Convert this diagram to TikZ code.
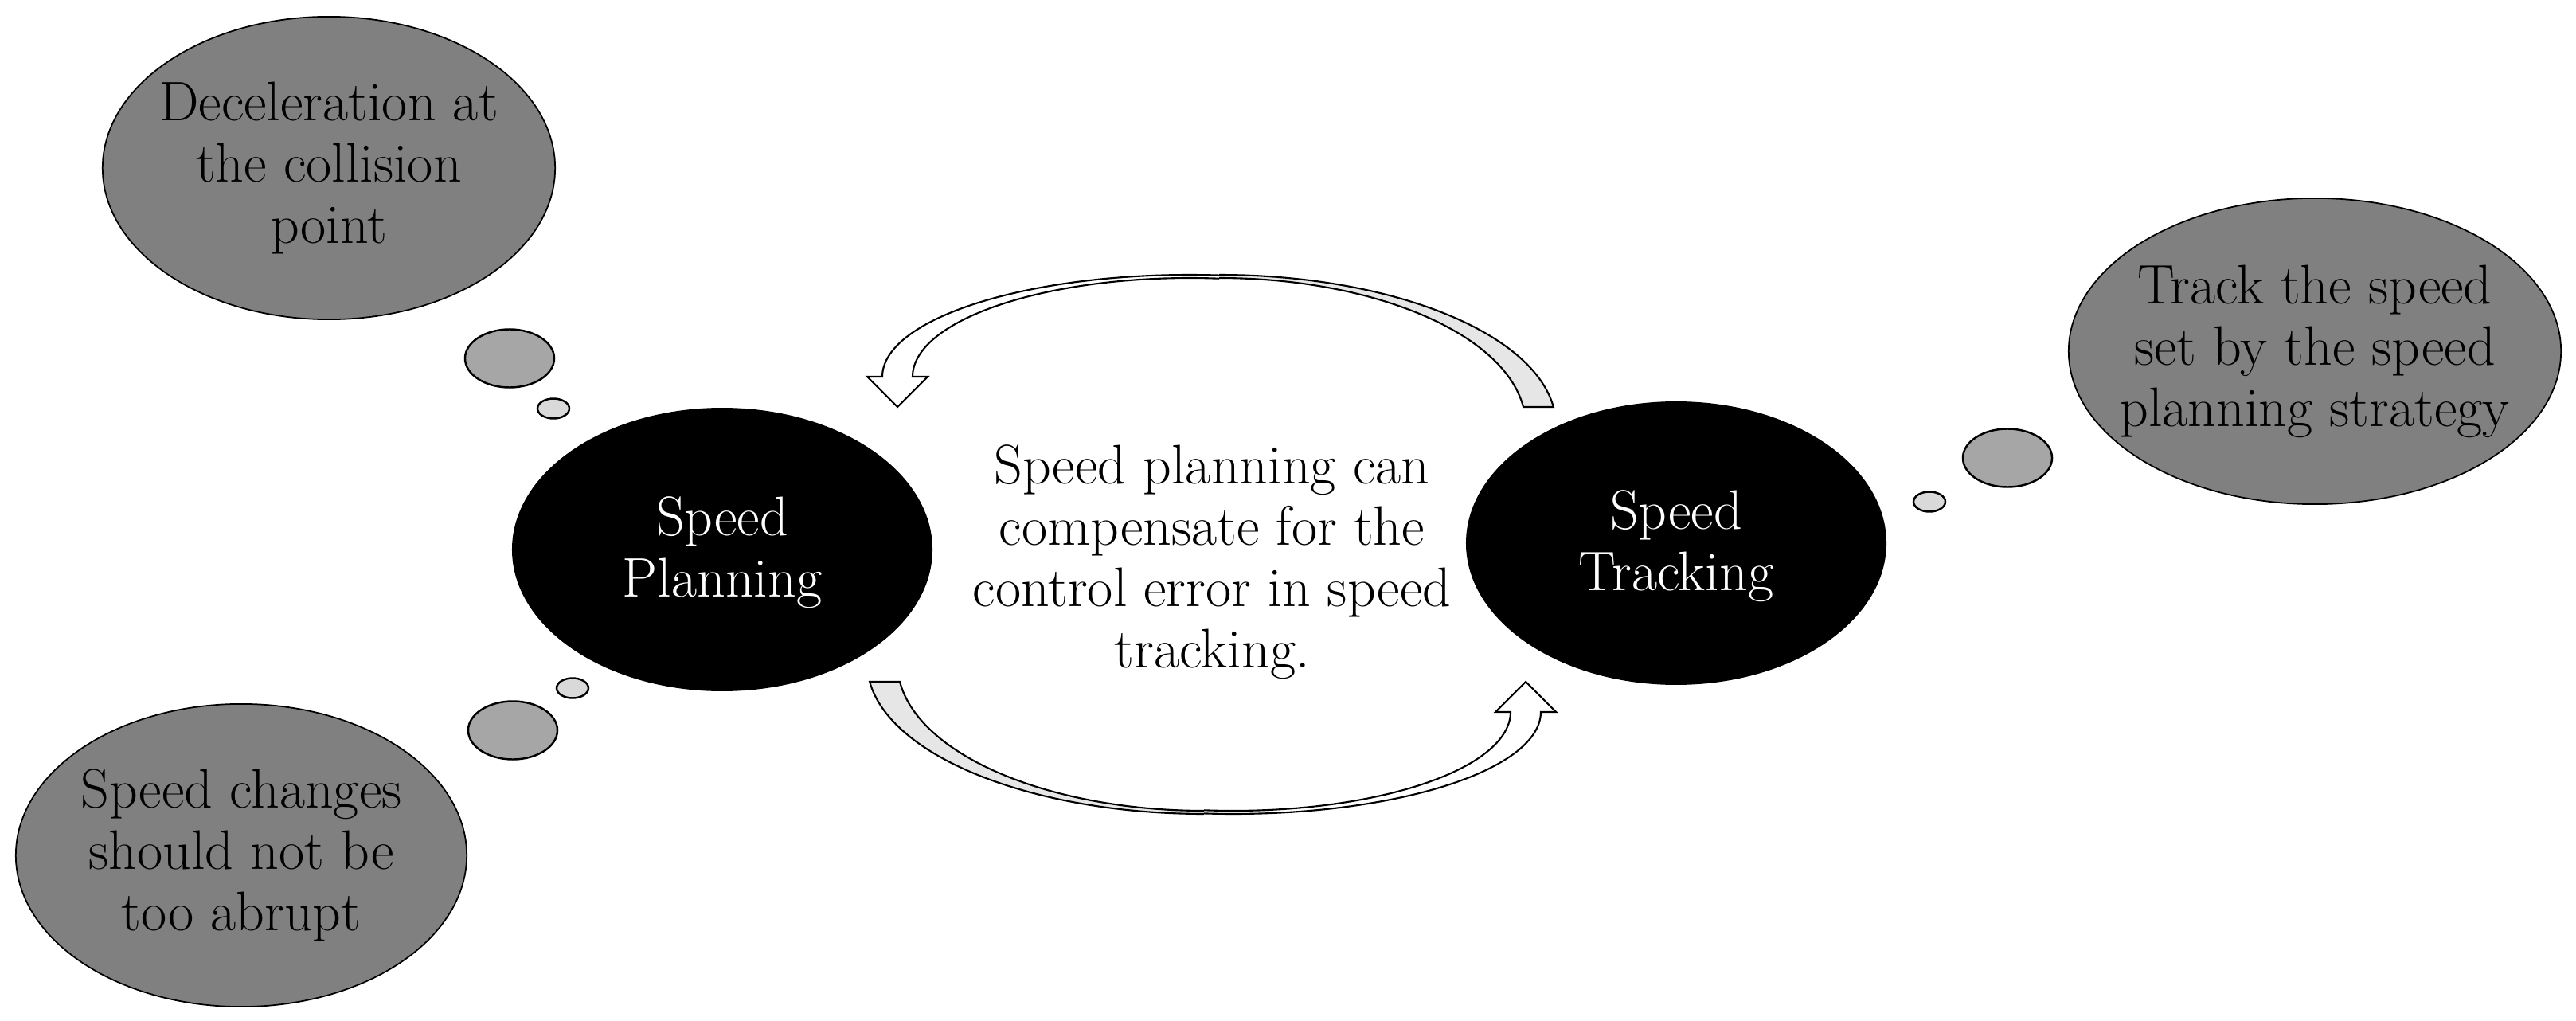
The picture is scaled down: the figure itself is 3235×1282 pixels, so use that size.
\documentclass[tikz,border=0pt]{standalone}
\usepackage{fontspec}
\usetikzlibrary{shapes.geometric}
\definecolor{ellgray}{HTML}{808080}
\definecolor{bubgray}{HTML}{A6A6A6}
\definecolor{smallgray}{HTML}{D9D9D9}
\definecolor{arrgray}{HTML}{E6E6E6}
\newcommand{\myCurvArrow}{%
  % back (grey) band with the tail
  \fill[arrgray] plot[domain=90:6.99,samples=60] ({1531+423*cos(\x)},{534-189*sin(\x)})
     -- plot[domain=7.14:90,samples=60] ({1531+385*cos(\x)},{534-185*sin(\x)}) -- cycle;
  \draw[arrline] plot[domain=90:6.99,samples=60] ({1531+423*cos(\x)},{534-189*sin(\x)})
     -- plot[domain=7.14:90,samples=60] ({1531+385*cos(\x)},{534-185*sin(\x)});
  % front (white) band with the head
  \fill[white] plot[domain=180:84.5,samples=60] ({1494+386*cos(\x)},{473-128*sin(\x)})
     -- plot[domain=83.9:180,samples=60] ({1494+348*cos(\x)},{473-124*sin(\x)})
     -- (1165,473) -- (1127,511) -- (1089,473) -- cycle;
  \draw[arrline] plot[domain=83.9:180,samples=60] ({1494+348*cos(\x)},{473-124*sin(\x)})
     -- (1165,473) -- (1127,511) -- (1089,473) -- (1108,473)
     -- plot[domain=180:84.5,samples=60] ({1494+386*cos(\x)},{473-128*sin(\x)});
}
\begin{document}
\begin{tikzpicture}[x=0.01cm,y=-0.01cm,
  arrline/.style={draw=black,line width=0.6pt,line join=miter},
  bigell/.style={ellipse,fill=ellgray,draw=black,line width=0.5pt,inner sep=0pt,outer sep=0pt},
  blackell/.style={ellipse,fill=black,draw=black,line width=0.5pt,inner sep=0pt,outer sep=0pt},
  bubbig/.style={ellipse,fill=bubgray,draw=black,line width=0.7pt,inner sep=0pt,outer sep=0pt,minimum width=1.12cm,minimum height=0.73cm},
  bubsmall/.style={ellipse,fill=smallgray,draw=black,line width=0.7pt,inner sep=0pt,outer sep=0pt,minimum width=0.40cm,minimum height=0.25cm},
  txt/.style={align=center,font=\fontsize{19.9}{21.9}\selectfont,inner sep=0pt}]
\useasboundingbox (0,0) rectangle (3235,1282);
\fill[white] (0,0) rectangle (3235,1282);

% curved arrows
\myCurvArrow
\begin{scope}[rotate around={180:(1521.5,683.5)}]
\myCurvArrow
\end{scope}

% big grey ellipses
\node[bigell,minimum width=5.68cm,minimum height=3.80cm] (dec) at (413,211) {};
\node[bigell,minimum width=5.66cm,minimum height=3.80cm] (chg) at (303,1074) {};
\node[bigell,minimum width=6.18cm,minimum height=3.84cm] (trk) at (2907,441) {};

% black ellipses
\node[blackell,minimum width=5.26cm,minimum height=3.54cm] (sp) at (907,690) {};
\node[blackell,minimum width=5.26cm,minimum height=3.54cm] (st) at (2105,682) {};

% thought bubbles
\node[bubbig] (b1) at (640,450) {};
\node[bubsmall] (b2) at (695,513) {};
\node[bubsmall] (b3) at (719,864) {};
\node[bubbig] (b4) at (644,917) {};
\node[bubsmall] (b5) at (2423,630) {};
\node[bubbig] (b6) at (2521,575) {};

% texts
\node[txt] (dect) at (dec.center) {Deceleration at\\the collision\\point};
\node[txt] (chgt) at (chg.center) {Speed changes\\should not be\\too abrupt};
\node[txt] (trkt) at (trk.center) {Track the speed\\set by the speed\\planning strategy};
\node[txt,text=white] (spt) at ([yshift=-0.04cm]sp.center) {Speed\\Planning};
\node[txt,text=white] (stt) at ([yshift=-0.04cm]st.center) {Speed\\Tracking};
\node[txt] (ctext) at (1522,706) {Speed planning can\\compensate for the\\control error in speed\\tracking.};
\end{tikzpicture}
\end{document}
